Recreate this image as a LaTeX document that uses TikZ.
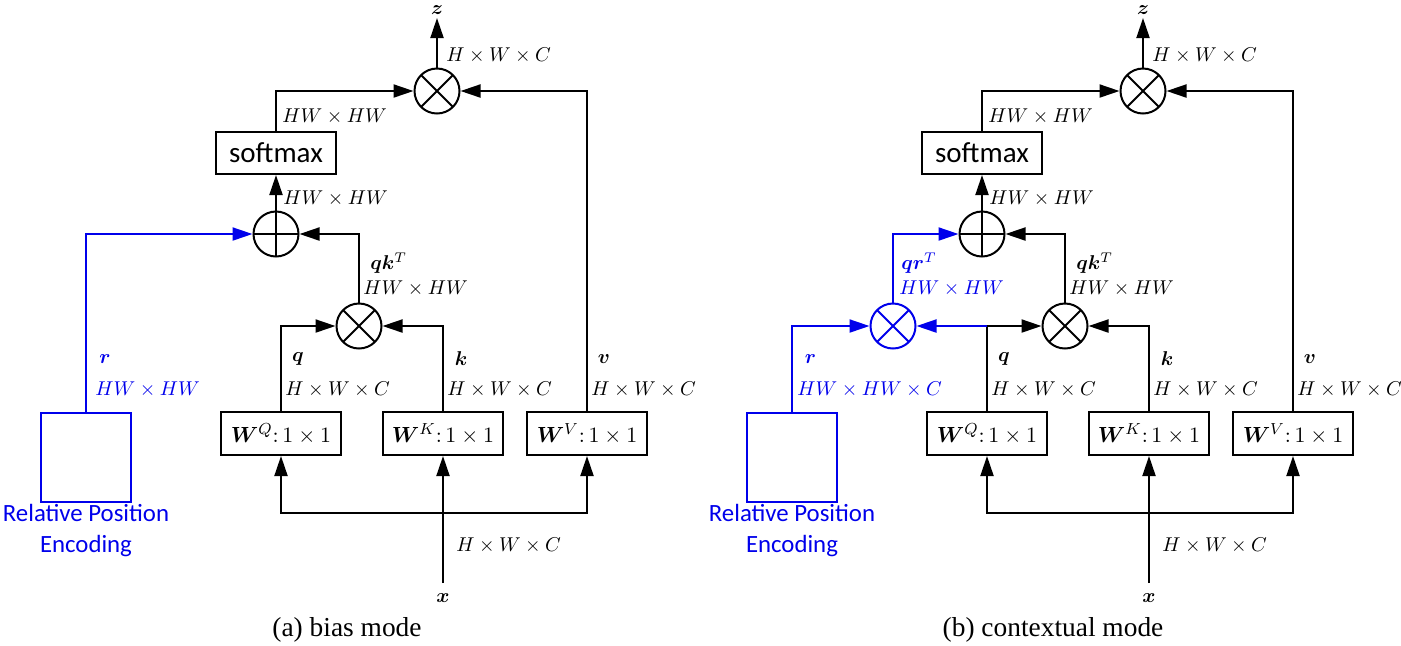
\documentclass[tikz,border=0pt]{standalone}
\usepackage{amsmath}
\usepackage{bm}
\usepackage{fontspec}
\setmainfont{Liberation Serif}
\newfontfamily\calibri{Carlito}
\usetikzlibrary{arrows.meta}
\definecolor{rpe}{RGB}{0,0,235}
\tikzset{
  ln/.style={line width=1pt},
  arr/.style={line width=1pt,-{Triangle[length=10pt,width=6.5pt]}},
  opbox/.style={draw,line width=1pt,minimum width=60pt,minimum height=21.5pt,inner sep=0pt,font=\fontsize{11}{13}\selectfont},
  smbox/.style={draw,line width=1pt,minimum width=60pt,minimum height=21pt,inner sep=0pt,font=\calibri\fontsize{14.5}{16}\selectfont},
  relbox/.style={draw=rpe,line width=1pt,minimum width=45pt,minimum height=44.5pt,inner sep=0pt},
  reltext/.style={text=rpe,align=center,inner sep=0pt,font=\calibri\fontsize{12.4}{15.5}\selectfont},
  mult/.style={circle,draw,line width=1pt,minimum size=22.5pt,inner sep=0pt,
    path picture={\draw[line width=1pt] (path picture bounding box.north west) -- (path picture bounding box.south east)
      (path picture bounding box.north east) -- (path picture bounding box.south west);}},
  addc/.style={circle,draw,line width=1pt,minimum size=22.5pt,inner sep=0pt,
    path picture={\draw[line width=1pt] (path picture bounding box.north) -- (path picture bounding box.south)
      (path picture bounding box.east) -- (path picture bounding box.west);}},
  lab/.style={anchor=west,inner sep=0pt,font=\fontsize{10.2}{12}\selectfont},
  clab/.style={inner sep=0pt,font=\fontsize{10.2}{12}\selectfont},
  captxt/.style={inner sep=0pt,font=\fontsize{13.7}{16}\selectfont},
}
\begin{document}
\begin{tikzpicture}[x=0.5pt,y=-0.5pt]
\useasboundingbox (0,0) rectangle (1401,645);

% ================= (a) bias mode =================
\node[mult] (aTop) at (437,91) {};
\node[smbox] (aSm) at (276,153) {softmax};
\node[addc] (aAdd) at (276,234) {};
\node[mult] (aMid) at (359,326) {};
\node[opbox] (aWq) at (281,433.5) {$\bm{W}^{Q}\mathpunct{:}1\times 1$};
\node[opbox] (aWk) at (443,433.5) {$\bm{W}^{K}\mathpunct{:}1\times 1$};
\node[opbox] (aWv) at (587,433.5) {$\bm{W}^{V}\mathpunct{:}1\times 1$};
\node[relbox] (aRel) at (86,457) {};
\node[reltext] (aRelT) at (86,531) {Relative Position\\Encoding};
\node[clab] (aZ) at (437,10) {$\bm{z}$};
\node[clab] (aX) at (443,598) {$\bm{x}$};
\coordinate (aZend) at (437,18);
\coordinate (aXin) at (443,583);
\coordinate (aJ) at (443,513);

\draw[arr] (aTop.north) -- (aZend);
\draw[arr] (aSm.north) |- (aTop.west);
\draw[arr] (aWv.north) |- (aTop.east);
\draw[arr] (aAdd.north) -- (aSm.south);
\draw[arr] (aMid.north) |- (aAdd.east);
\draw[arr,rpe] (aRel.north) |- (aAdd.west);
\draw[arr] (aWq.north) |- (aMid.west);
\draw[arr] (aWk.north) |- (aMid.east);
\draw[arr] (aXin) -- (aWk.south);
\draw[arr] (aJ) -| (aWq.south);
\draw[arr] (aJ) -| (aWv.south);

\node[lab] (aL1) at (446,55) {$H\times W\times C$};
\node[lab] (aL2) at (282,116) {$HW\times HW$};
\node[lab] (aL3) at (283,198) {$HW\times HW$};
\node[lab] (aL4) at (370,263) {$\bm{qk}^{T}$};
\node[lab] (aL5) at (363,288) {$HW\times HW$};
\node[clab] (aLq) at (298,359) {$\bm{q}$};
\node[clab] (aLk) at (461,359) {$\bm{k}$};
\node[clab] (aLv) at (604,359) {$\bm{v}$};
\node[lab] (aL6) at (285,389) {$H\times W\times C$};
\node[lab] (aL7) at (447,389) {$H\times W\times C$};
\node[lab] (aL8) at (591,389) {$H\times W\times C$};
\node[lab] (aL9) at (456,545) {$H\times W\times C$};
\node[clab,text=rpe] (aLr) at (105,359) {$\bm{r}$};
\node[lab,text=rpe] (aL10) at (95,389) {$HW\times HW$};
\node[captxt] (aCap) at (347,630) {(a) bias mode};

% ================= (b) contextual mode =================
\node[mult] (bTop) at (1143,91) {};
\node[smbox] (bSm) at (982,153) {softmax};
\node[addc] (bAdd) at (982,234) {};
\node[mult] (bMid) at (1065,326) {};
\node[mult,color=rpe] (bRmul) at (893,326) {};
\node[opbox] (bWq) at (987,433.5) {$\bm{W}^{Q}\mathpunct{:}1\times 1$};
\node[opbox] (bWk) at (1149,433.5) {$\bm{W}^{K}\mathpunct{:}1\times 1$};
\node[opbox] (bWv) at (1293,433.5) {$\bm{W}^{V}\mathpunct{:}1\times 1$};
\node[relbox] (bRel) at (792,457) {};
\node[reltext] (bRelT) at (792,531) {Relative Position\\Encoding};
\node[clab] (bZ) at (1143,10) {$\bm{z}$};
\node[clab] (bX) at (1149,598) {$\bm{x}$};
\coordinate (bZend) at (1143,18);
\coordinate (bXin) at (1149,583);
\coordinate (bJ) at (1149,513);
\coordinate (bQj) at (987,326);

\draw[arr] (bTop.north) -- (bZend);
\draw[arr] (bSm.north) |- (bTop.west);
\draw[arr] (bWv.north) |- (bTop.east);
\draw[arr] (bAdd.north) -- (bSm.south);
\draw[arr] (bMid.north) |- (bAdd.east);
\draw[arr,rpe] (bRmul.north) |- (bAdd.west);
\draw[arr,rpe] (bRel.north) |- (bRmul.west);
\draw[ln] (bWq.north) -- (bQj);
\draw[arr] (bQj) -- (bMid.west);
\draw[arr,rpe] (bQj) -- (bRmul.east);
\draw[arr] (bWk.north) |- (bMid.east);
\draw[arr] (bXin) -- (bWk.south);
\draw[arr] (bJ) -| (bWq.south);
\draw[arr] (bJ) -| (bWv.south);

\node[lab] (bL1) at (1152,55) {$H\times W\times C$};
\node[lab] (bL2) at (988,116) {$HW\times HW$};
\node[lab] (bL3) at (989,198) {$HW\times HW$};
\node[lab] (bL4) at (1076,263) {$\bm{qk}^{T}$};
\node[lab] (bL5) at (1069,288) {$HW\times HW$};
\node[lab,text=rpe] (bL4r) at (901,263) {$\bm{qr}^{T}$};
\node[lab,text=rpe] (bL5r) at (899,288) {$HW\times HW$};
\node[clab] (bLq) at (1004,359) {$\bm{q}$};
\node[clab] (bLk) at (1167,359) {$\bm{k}$};
\node[clab] (bLv) at (1310,359) {$\bm{v}$};
\node[lab] (bL6) at (991,389) {$H\times W\times C$};
\node[lab] (bL7) at (1153,389) {$H\times W\times C$};
\node[lab] (bL8) at (1297,389) {$H\times W\times C$};
\node[lab] (bL9) at (1162,545) {$H\times W\times C$};
\node[clab,text=rpe] (bLr) at (810.5,359) {$\bm{r}$};
\node[lab,text=rpe] (bL10) at (797,389) {$HW\times HW\times C$};
\node[captxt] (bCap) at (1053,630) {(b) contextual mode};
\end{tikzpicture}
\end{document}
